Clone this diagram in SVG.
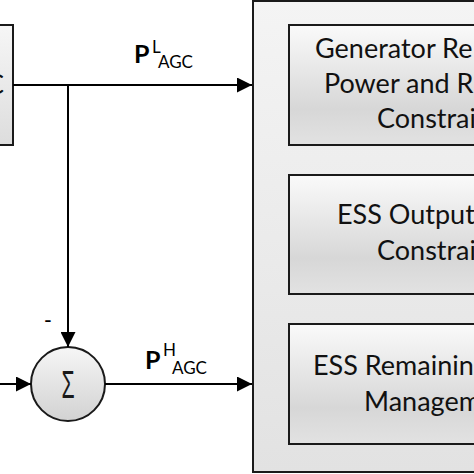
<svg xmlns="http://www.w3.org/2000/svg" width="474" height="474" viewBox="0 0 474 474">
<defs>
<linearGradient id="gBox" x1="0" y1="0" x2="0" y2="1">
<stop offset="0" stop-color="#fafafa"/>
<stop offset="0.7" stop-color="#d7d7d7"/>
<stop offset="1" stop-color="#e2e2e2"/>
</linearGradient>
<linearGradient id="gBig" x1="0" y1="0" x2="0" y2="1">
<stop offset="0" stop-color="#f4f4f4"/>
<stop offset="1" stop-color="#e2e2e2"/>
</linearGradient>
<linearGradient id="gLeft" x1="0" y1="0" x2="0" y2="1">
<stop offset="0" stop-color="#f6f6f6"/>
<stop offset="1" stop-color="#dddddd"/>
</linearGradient>
<linearGradient id="gCirc" x1="0" y1="0" x2="0" y2="1">
<stop offset="0" stop-color="#f6f6f6"/>
<stop offset="1" stop-color="#d2d2d2"/>
</linearGradient>
<marker id="arr" viewBox="0 0 15 15" refX="15" refY="7.5" markerWidth="15" markerHeight="15" markerUnits="userSpaceOnUse" orient="auto">
<path d="M0,0 L15,7.5 L0,15 Z" fill="#000"/>
</marker>
<style>
.box{stroke:#1a1a1a;stroke-width:2}
.t{font-family:Lato,"Open Sans",sans-serif;font-size:27px;fill:#111}
.line{stroke:#000;stroke-width:2;fill:none}
.pb{font-family:Lato,"Open Sans",sans-serif;font-weight:bold;font-size:25px;fill:#000}
.ps{font-family:Lato,"Open Sans",sans-serif;font-size:17px;fill:#000}
</style>
</defs>
<g id="left-block">
<rect class="box" x="-12" y="25" width="25" height="120" fill="url(#gLeft)"/>
<text class="t" x="4" y="94" text-anchor="end">C</text>
</g>
<g id="sum">
<circle class="box" cx="68" cy="384" r="37" fill="url(#gCirc)"/>
<text transform="translate(68,398) scale(0.56,1)" text-anchor="middle" font-family="Liberation Sans,sans-serif" font-size="38" fill="#1a1a1a">Σ</text>
<text x="48" y="327" text-anchor="middle" font-family="Liberation Sans,sans-serif" font-size="22" fill="#000">-</text>
</g>
<g id="controller">
<rect class="box" x="253" y="1" width="240" height="471" fill="url(#gBig)"/>
</g>
<g id="box-generator">
<rect class="box" x="289" y="25" width="200" height="120" fill="url(#gBox)"/>
<text class="t" x="315" y="58">Generator Re</text>
<text class="t" x="324" y="93">Power and R</text>
<text class="t" x="377" y="128">Constrai</text>
</g>
<g id="box-ess-output">
<rect class="box" x="289" y="175" width="200" height="119" fill="url(#gBox)"/>
<text class="t" x="337" y="224">ESS Output</text>
<text class="t" x="377" y="260">Constrai</text>
</g>
<g id="box-ess-remaining">
<rect class="box" x="289" y="324" width="200" height="120" fill="url(#gBox)"/>
<text class="t" x="313" y="375">ESS Remainin</text>
<text class="t" x="364" y="411">Managem</text>
</g>
<g id="connectors">
<path class="line" d="M13,85 H252" marker-end="url(#arr)"/>
<path class="line" d="M68,85 V347" marker-end="url(#arr)"/>
<path class="line" d="M-2,384 H31" marker-end="url(#arr)"/>
<path class="line" d="M105,384 H252" marker-end="url(#arr)"/>
</g>
<g id="labels">
<text class="pb" x="134" y="63">P</text>
<text class="ps" x="152" y="53">L</text>
<text class="ps" x="158" y="68">AGC</text>
<text class="pb" x="145" y="369">P</text>
<text class="ps" x="163" y="356">H</text>
<text class="ps" x="172" y="374">AGC</text>
</g>
</svg>
